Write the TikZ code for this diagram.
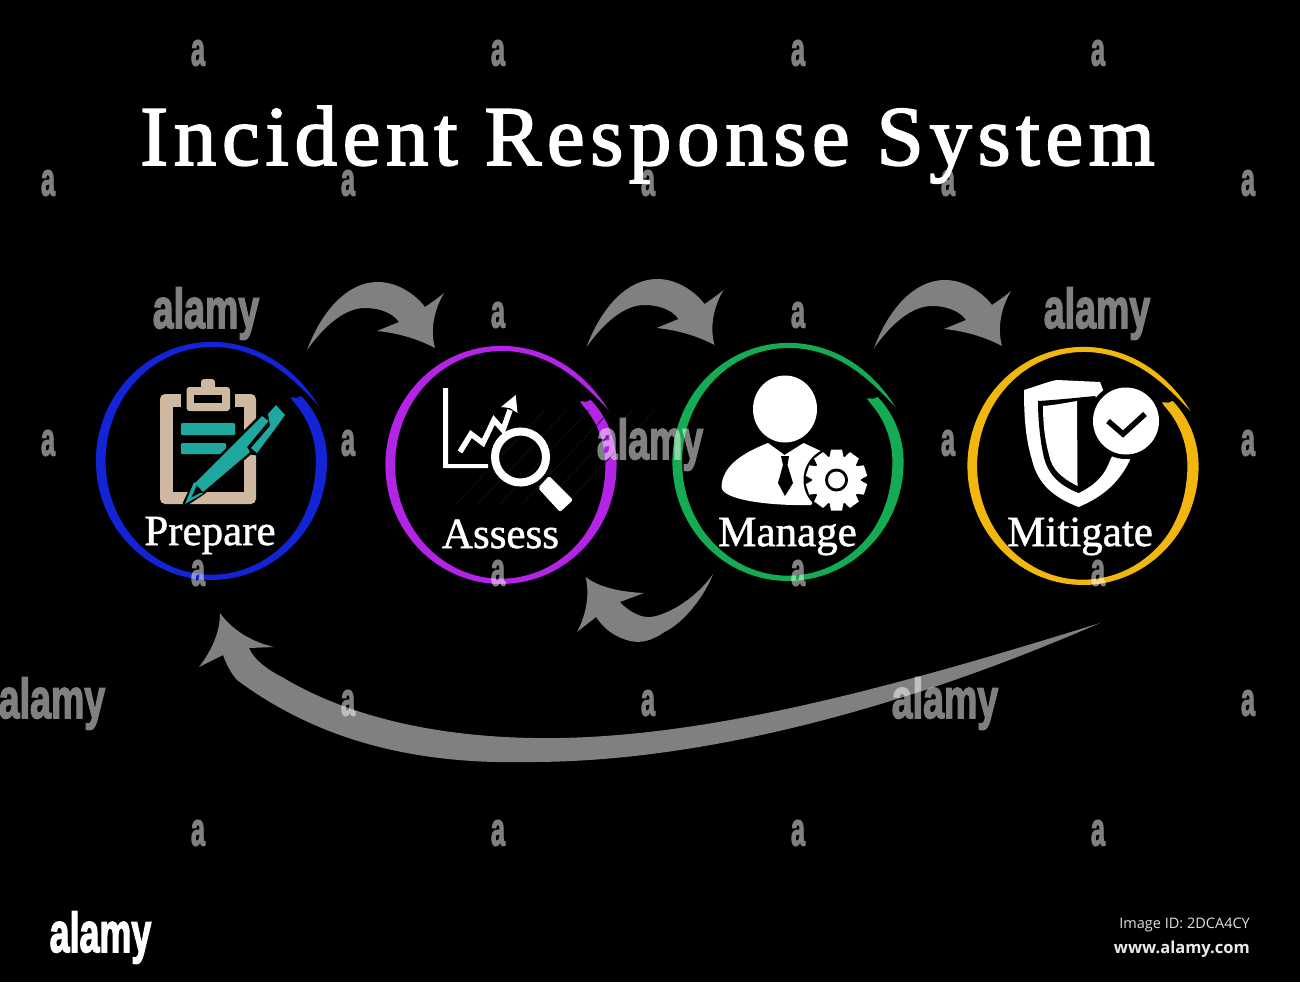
\documentclass[tikz,border=0pt]{standalone}
\usepackage{fontspec}
\setmainfont{Liberation Serif}
\newfontfamily\titlefont[LetterSpace=6.6,FakeBold=2]{Liberation Serif}
\newfontfamily\labelfont[FakeBold=1.2]{Liberation Serif}
\newfontfamily\wmfont[BoldFeatures={FakeBold=3}]{Liberation Sans}
\newfontfamily\idfont{Open Sans}
\definecolor{bluering}{HTML}{1323D6}
\definecolor{purplering}{HTML}{B324E6}
\definecolor{greenring}{HTML}{14AB52}
\definecolor{yellowring}{HTML}{F2B70F}
\definecolor{arrowgray}{HTML}{808080}
\definecolor{beige}{HTML}{CFB8A2}
\definecolor{teal2}{HTML}{1EA89F}
\tikzset{
  x=1pt,y=-1pt,
  declare function={
    ringo(\t)=117.3-1.7*cos(2*\t)+4.5*exp(-(\t-27)/18)-(\t>360)*6*((\t-360)/36)^2;
    ringw(\t)=(7.5+2.2*cos(2*(\t-180))+(\t>320)*1.5*min((\t-320)/30,1))*(1-exp(-(\t-27)/20));
  },
  ttl/.style={text=white,inner sep=0,anchor=base,font=\titlefont\fontsize{85}{85}\selectfont},
  lbl/.style={text=white,inner sep=0,anchor=base,font=\labelfont\fontsize{43}{43}\selectfont},
  wma/.style={text=white,inner sep=0,anchor=center,font=\wmfont\bfseries\fontsize{47}{47}\selectfont},
  wmb/.style={text=white,inner sep=0,anchor=base,font=\wmfont\bfseries\fontsize{56}{56}\selectfont},
  logo/.style={text=white,inner sep=0,anchor=base,font=\wmfont\bfseries\fontsize{56}{56}\selectfont},
  idtxt/.style={text=white!88!black,inner sep=0,anchor=base east,font=\idfont\fontsize{14.5}{14.5}\selectfont},
  urltxt/.style={text=white!92!black,inner sep=0,anchor=base east,font=\idfont\bfseries\fontsize{16.5}{16.5}\selectfont},
  arrowfill/.style={fill=arrowgray},
  hatch/.style={draw=white!8!black,line width=.6pt},
}
\newcommand\ringshape[3]{%
  \fill[#3,shift={(#1,#2)}]
   plot[domain=27:396,samples=150,variable=\t] ({-\t}:{ringo(\t)})
   -- (-396.5:106.5)
   -- plot[domain=399:27,samples=150,variable=\t] ({-\t}:{ringo(min(\t,396))-ringw(\t)})
   -- cycle;}
\newcommand\toparrow[3]{%
  \coordinate (#3s) at (#1+307,#2+350);
  \coordinate (#3t) at (#1+435,#2+348);
  \fill[arrowfill,shift={(#1,#2)}] (307,350)
    .. controls (320,315) and (345,282) .. (378,282)
    .. controls (398,282) and (416,295) .. (425,307)
    .. controls (431,303) and (438,298) .. (444,293)
    .. controls (434,310) and (430,330) .. (435,348)
    .. controls (418,339) and (398,333) .. (377,331)
    -- (399,322)
    .. controls (392,312) and (378,308) .. (365,308)
    .. controls (345,308) and (325,325) .. (307,350) -- cycle;}
\begin{document}
\begin{tikzpicture}
\fill[black] (0,0) rectangle (1300,982);
\useasboundingbox (0,0) rectangle (1300,982);

\node[ttl] (title) at (647.5,165) {Incident Response System};

% rings
\coordinate (prepareC) at (211.5,461);
\coordinate (assessC) at (501,465);
\coordinate (manageC) at (788,462);
\coordinate (mitigateC) at (1083,466);
\ringshape{211.5}{461}{bluering}
\ringshape{501}{465}{purplering}
\ringshape{788}{462}{greenring}
\ringshape{1083}{466}{yellowring}

% top arrows
\toparrow{0}{0}{arrA}
\toparrow{279.5}{-3}{arrB}
\toparrow{567}{-2}{arrC}

% small back arrow
\fill[arrowfill] (713,574)
  .. controls (705,595) and (685,622) .. (664.5,632)
  .. controls (650,642) and (640,643) .. (630,641)
  .. controls (615,637) and (605,630) .. (596,617)
  -- (577,632)
  .. controls (586,615) and (590,595) .. (585.6,577)
  .. controls (600,588) and (622,592) .. (644,593)
  -- (620,602)
  .. controls (627,610) and (640,618) .. (650,617)
  .. controls (665,616) and (695,600) .. (713,574) -- cycle;

% long arrow
\coordinate (longS) at (1100,623);
\coordinate (longT) at (220,613);
\fill[arrowfill] (longS)
  .. controls (900,710) and (700,762) .. (530,762)
  .. controls (410,765) and (315,738) .. (237,680)
  .. controls (230,672) and (226,663) .. (223,655)
  -- (199,667)
  .. controls (212,650) and (220,632) .. (longT)
  .. controls (232,630) and (252,642) .. (274,647)
  -- (249,648)
  .. controls (254,660) and (268,670) .. (282,677)
  .. controls (340,712) and (430,740) .. (560,738)
  .. controls (720,735) and (900,685) .. (longS) -- cycle;

% Clipboard
\fill[beige,rounded corners=5pt] (160,394) rectangle (256,504);
\fill[black] (173,407) rectangle (244,492);
\fill[black] (181,385) rectangle (235,408);
\fill[beige,rounded corners=3pt] (186.5,387) rectangle (230,411);
\fill[beige,rounded corners=3pt] (201,379) rectangle (215,392);
\fill[black] (194,395) rectangle (222,403);
\fill[teal2,rounded corners=1pt] (181,423) rectangle (235,435);
\fill[teal2,rounded corners=1pt] (181,443) rectangle (226,454);
% pen
\draw[black,line width=5pt,line join=round,fill=black] (185,504) -- (195,483) -- (262,416) -- (276,405) -- (285,415) -- (257,453) -- (250,452) -- (203,492) -- cycle;
\fill[teal2] (195,483) -- (262,416) -- (268.6,421) -- (247,447) -- (250,452) -- (203,492) -- cycle;
\fill[teal2] (251,448) -- (270,426) -- (268,414) -- (276,405) -- (285,415) -- (275,429) -- (257,453) -- cycle;
\fill[teal2] (185,504) -- (194,482) -- (197,485) -- (191,498) -- (200,493) -- (204,493) -- cycle;

% Assess icon
\foreach \i in {0,1,2,3,4,5}{
  \draw[hatch] (455+\i*22,505) -- (455+\i*22+90,410);
}
\fill[white] (443,388) -- (448,388) -- (448,464) -- (488,464) -- (488,468) -- (443,468) -- cycle;
\draw[white,line width=5.5pt,miter limit=3] (460,452) -- (471,434) -- (483,443) -- (494,420) -- (503,430) -- (510,410);
\fill[white] (515.7,395) -- (517.5,413) -- (510,408) -- (501,407) -- cycle;
\draw[white,line width=8pt] (520.5,457) circle[radius=25.5];
\fill[white,rounded corners=2pt] (538,488) -- (549,476) -- (573,500) -- (560,512) -- cycle;

% Manage icon
\fill[white] (785,409) ellipse[x radius=32,y radius=33.5];
\fill[white] (768,443) .. controls (745,452) and (722,465) .. (721.5,487)
  .. controls (722,500) and (770,506) .. (811,505)
  -- (828,480) -- (825,453) -- (803.6,443) -- (784.5,455) -- cycle;
\fill[black] (781,456) -- (789,456) -- (787.5,465) -- (793,483) -- (785,496) -- (778,483) -- (783,465) -- cycle;
\fill[black] (836.5,480) circle[radius=33];
\fill[white] (836.5,480) circle[radius=24.5];
\foreach \a in {0,36,...,324}{
  \fill[white,rotate around={\a:(836.5,480)}] (831,449.5) -- (842,449.5) -- (844,460) -- (829,460) -- cycle;
}
\fill[black] (836.5,480) circle[radius=11.5];
\fill[white] (836.5,480) circle[radius=8.5];

% Mitigate icon
\fill[white] (1024,390) .. controls (1040,385) and (1050,381) .. (1057,380)
  -- (1100,382) -- (1130,460)
  .. controls (1118,485) and (1100,498) .. (1078.6,507)
  .. controls (1055,498) and (1038,485) .. (1032,460)
  .. controls (1026,440) and (1024,420) .. (1024,390) -- cycle;
\fill[black] (1038,401) .. controls (1055,400) and (1075,398) .. (1095,396)
  -- (1120,440) -- (1110,460)
  .. controls (1105,475) and (1095,485) .. (1078.6,493)
  .. controls (1058,485) and (1048,473) .. (1044,458)
  .. controls (1040,440) and (1038,420) .. (1038,401) -- cycle;
\fill[white] (1043,406) .. controls (1055,405) and (1065,403) .. (1077,401)
  -- (1077.5,486)
  .. controls (1062,478) and (1052,470) .. (1049,455)
  .. controls (1045,440) and (1043,425) .. (1043,406) -- cycle;
\fill[black] (1126,421) circle[radius=38];
\fill[white] (1126,421) ellipse[x radius=33,y radius=33.5];
\draw[black,line width=5.5pt] (1108,421) -- (1123,434) -- (1145,414);

% labels
\node[lbl] (prepare) at (210,545) {Prepare};
\node[lbl] (assess) at (500.5,548) {Assess};
\node[lbl] (manage) at (787.5,546) {Manage};
\node[lbl] (mitigate) at (1080,546) {Mitigate};

% watermarks
\begin{scope}[transparency group,opacity=.5]
\foreach \px/\py [count=\n] in {198/53,498/53,798/53,1098/53,
  48/183,348/183,648/183,948/183,1248/183,
  498/315,798/315,
  48/443,348/443,948/443,1248/443,
  198/573,498/573,798/573,1098/573,
  348/703,648/703,1248/703,
  198/833,498/833,798/833,1098/833}{
  \node[wma] (wa\n) at (\px,\py) {\scalebox{.54}[1]{a}};
}
\foreach \px/\py [count=\n] in {206/328,1097/328,650/459,52/718,945/718}{
  \node[wmb] (wb\n) at (\px,\py) {\scalebox{.67}[1]{alamy}};
}
\end{scope}
\node[logo] (logoA) at (100.5,952) {\scalebox{.64}[1]{alamy}};
\node[idtxt] (imgid) at (1250,928) {Image ID: 2DCA4CY};
\node[urltxt] (url) at (1250,953) {www.alamy.com};
\end{tikzpicture}
\end{document}
